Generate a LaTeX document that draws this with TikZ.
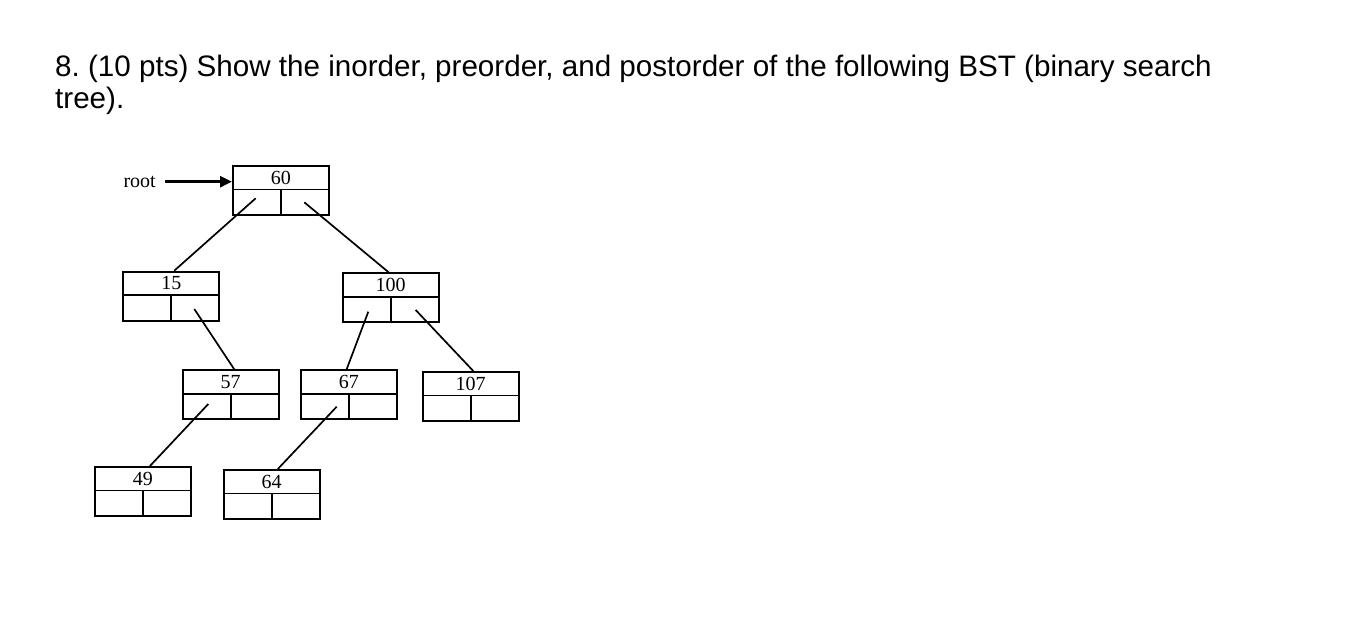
\documentclass[tikz,border=0pt]{standalone}
\usepackage{fontspec}
\setmainfont{Liberation Serif}
\newfontfamily\titlefont{Liberation Sans}
\usetikzlibrary{calc,arrows.meta}
\frenchspacing
\tikzset{
  bstbox/.style={draw, line width=1.9pt, minimum width=96pt, minimum height=49pt, inner sep=0pt, anchor=north west},
  bstlabel/.style={font=\fontsize{20}{22}\selectfont, inner sep=0pt},
  boxline/.style={line width=1.9pt},
  link/.style={line width=1.7pt},
  titletext/.style={font=\titlefont\fontsize{29.6}{34}\selectfont, inner sep=0pt, anchor=base west},
}
\newcommand{\bstnode}[4]{%
  \node[bstbox] (#1) at (#2,#3) {};
  \node[bstlabel] (#1-t) at ($(#1.north)+(0,12.5)$) {#4};
  \coordinate (#1-d) at ($(#1.north west)+(0,24.5)$);
  \draw[boxline] (#1-d) -- (#1-d -| #1.east);
  \draw[boxline] (#1-d -| #1.center) -- (#1.south);
}
\begin{document}
\begin{tikzpicture}[x=1pt,y=-1pt]
\useasboundingbox[fill=white] (0,0) rectangle (1364,642);
\node[titletext] (title1) at (55,76) {8. (10 pts) Show the inorder, preorder, and postorder of the following BST (binary search};
\node[titletext] (title2) at (55,108) {tree).};

\bstnode{n60}{232}{165}{60}
\bstnode{n15}{122.3}{270.7}{15}
\bstnode{n100}{341.7}{272.3}{100}
\bstnode{n57}{181.7}{369.3}{57}
\bstnode{n67}{300}{369.3}{67}
\bstnode{n107}{421.7}{371}{107}
\bstnode{n49}{94}{466}{49}
\bstnode{n64}{222.7}{469}{64}

\node[bstlabel, anchor=base west] (root) at (123.3,187.5) {root};
\coordinate (rs) at (165,181.7);
\draw[line width=2.8pt, -{Triangle[length=12pt,width=11pt]}] (rs) -- (rs -| n60.west);

% pointers
\coordinate (p60l) at ($(n60.north west)+(23.7,33.3)$);
\coordinate (p60r) at ($(n60.north west)+(72.3,37.3)$);
\coordinate (p15r) at ($(n15.north west)+(72,38.3)$);
\coordinate (p100l) at ($(n100.north west)+(26.6,39.4)$);
\coordinate (p100r) at ($(n100.north west)+(74,37.7)$);
\coordinate (p57l) at ($(n57.north west)+(26.6,34.7)$);
\coordinate (p67l) at ($(n67.north west)+(36.7,37.4)$);

\draw[link] (p60l) -- ([xshift=3pt]n15.north);
\draw[link] (p60r) -- ([xshift=-2pt]n100.north);
\draw[link] (p15r) -- ([xshift=3.6pt]n57.north);
\draw[link] (p100l) -- ([xshift=-2.3pt]n67.north);
\draw[link] (p100r) -- ([xshift=2.6pt]n107.north);
\draw[link] (p57l) -- ([xshift=7pt]n49.north);
\draw[link] (p67l) -- ([xshift=6.2pt]n64.north);
\end{tikzpicture}
\end{document}
